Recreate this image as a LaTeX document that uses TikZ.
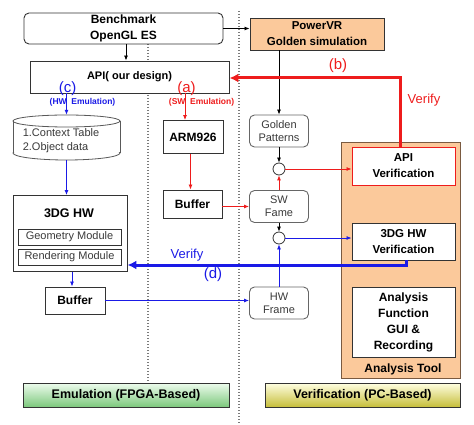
\documentclass[tikz,border=0pt]{standalone}
\usepackage{fontspec}
\setmainfont{Liberation Sans}
\usetikzlibrary{arrows.meta,calc}
\definecolor{orfill}{HTML}{FBC99B}
\definecolor{orline}{HTML}{7A5A40}
\definecolor{myred}{HTML}{EE1C1C}
\definecolor{myblue}{HTML}{1A1AE6}
\definecolor{gtext}{HTML}{3A3A3A}
\definecolor{bord}{HTML}{333333}
\definecolor{dotc}{HTML}{7A7A7A}
\definecolor{gtop}{HTML}{EEFCEE}
\definecolor{gbot}{HTML}{7CC87C}
\definecolor{ytop}{HTML}{FFFFE2}
\definecolor{ybot}{HTML}{C6BE3A}
\tikzset{
  box/.style={draw=bord, line width=0.9pt, fill=white, inner sep=0pt, align=center},
  rbox/.style={box, rounded corners=5pt, draw=gray!80!black, text=gtext,
    font=\fontsize{11}{13}\selectfont},
  bf/.style={font=\bfseries\fontsize{#1}{16}\selectfont},
  arr/.style={-{Latex[length=5pt,width=4pt]}, line width=0.8pt},
  bigarr/.style={-{Latex[length=9pt,width=9pt]}, line width=3pt},
  lbl/.style={font=\fontsize{15}{15}\selectfont, inner sep=0pt},
  vlbl/.style={font=\fontsize{13}{13}\selectfont, inner sep=0pt},
  small/.style={font=\bfseries\fontsize{8.5}{8.5}\selectfont, inner sep=0pt},
  dotline/.style={draw=dotc, line width=1.2pt, dash pattern=on 1.2pt off 1.8pt},
  circ/.style={circle, draw=bord, fill=white, minimum size=12pt, inner sep=0pt, line width=0.8pt}
}
\begin{document}
\begin{tikzpicture}[x=1pt,y=-1pt]
\useasboundingbox (0,0) rectangle (474,425);
% dotted separators
\draw[dotline] (148,44) -- (148,383);
\draw[dotline] (239,11) -- (239,425);

% analysis tool container
\node[draw=orline, fill=orfill, line width=0.9pt, minimum width=119pt, minimum height=236pt, inner sep=0pt] (tool) at (400.5,260) {};

% top
\node[box, bf=12, rounded corners=5pt, minimum width=199pt, minimum height=31pt] (bench) at (123.5,28.5) {Benchmark\\OpenGL ES};
\node[box, bf=11.5, fill=orfill, minimum width=134pt, minimum height=32pt] (pvr) at (317,34) {PowerVR\\Golden simulation};
\node[box, bf=11, minimum width=199pt, minimum height=32pt] (api) at (129.5,77) {API( our design)};

% cylinder
\fill[white] (13,121) rectangle (120,153);
\fill[white] (66.5,153) ellipse[x radius=53.5, y radius=7];
\draw[gray!70!black, line width=0.8pt] (13,121) -- (13,153) (120,121) -- (120,153);
\begin{scope}
  \clip (0,153) rectangle (140,170);
  \draw[gray!70!black, line width=0.8pt] (66.5,153) ellipse[x radius=53.5, y radius=7];
\end{scope}
\draw[gray!70!black, line width=0.8pt, fill=white] (66.5,121) ellipse[x radius=53.5, y radius=6];
\node[minimum width=107pt, minimum height=45pt, inner sep=0pt] (cyl) at (66.5,137.5) {};
\node[align=left, inner sep=0pt, font=\fontsize{11}{14}\selectfont, text=gtext] (cyltext) at (61,141) {1.Context Table\\2.Object data};

% SW emulation side
\node[box, bf=12, minimum width=60pt, minimum height=33pt] (arm) at (193,137) {ARM926};
\node[box, bf=12, minimum width=59pt, minimum height=28pt] (buf1) at (192.5,204) {Buffer};

% HW side
\node[box, minimum width=114pt, minimum height=76pt] (hw) at (70,233.5) {};
\node[bf=12.5, inner sep=0pt] (hwtitle) at (69,213) {3DG HW};
\node[box, font=\fontsize{11}{13}\selectfont, text=gtext, minimum width=103pt, minimum height=16pt] (geo) at (69.5,237) {Geometry Module};
\node[box, font=\fontsize{11}{13}\selectfont, text=gtext, minimum width=103pt, minimum height=16pt] (ren) at (69.5,257) {Rendering Module};
\node[box, bf=12, minimum width=60pt, minimum height=27pt] (buf2) at (75,300.5) {Buffer};

% middle column
\node[rbox, minimum width=59pt, minimum height=32pt] (gold) at (279,131) {Golden\\Patterns};
\node[circ] (c1) at (279,169) {};
\node[rbox, minimum width=59pt, minimum height=32pt] (swf) at (279,206.5) {SW\\Fame};
\node[circ] (c2) at (279,238) {};
\node[rbox, minimum width=59pt, minimum height=32pt] (hwf) at (279,303) {HW\\Frame};

% verification boxes
\node[box, bf=11.5, draw=myred, minimum width=103pt, minimum height=38pt] (apiv) at (403.5,166) {API\\Verification};
\node[box, bf=11.5, minimum width=103pt, minimum height=37pt] (hwv) at (403.5,241.5) {3DG HW\\Verification};
\node[box, bf=12, minimum width=103pt, minimum height=70pt] (anf) at (403.5,322) {Analysis\\Function\\GUI \&\\Recording};
\node[bf=12, inner sep=0pt] (tooltitle) at (403,369) {Analysis Tool};

% bottom bars
\node[draw=bord, line width=1pt, top color=gtop, bottom color=gbot, bf=12.5, minimum width=206pt, minimum height=24pt, inner sep=0pt] (emu) at (126,395) {Emulation (FPGA-Based)};
\node[draw=bord, line width=1pt, top color=ytop, bottom color=ybot, bf=12.5, minimum width=195pt, minimum height=24pt, inner sep=0pt] (ver) at (362.5,395) {Verification (PC-Based)};

% black connectors
\draw[arr] ([xshift=2.5pt]bench.south) -- ([xshift=2.5pt]bench.south |- api.north);
\draw[arr] (bench.east) -- (bench.east -| pvr.west);
\draw[arr] (gold.north |- pvr.south) -- (gold.north);
\draw[arr] (gold.south) -- (c1.north);
\draw[arr] (swf.south) -- (c2.north);

% blue connectors
\draw[arr, myblue] (cyl.north |- api.south) -- (cyl.north);
\draw[arr, myblue] (cyl.south) -- (cyl.south |- hw.north);
\draw[arr, myblue] ([xshift=2pt]hw.south) -- ([xshift=2pt]hw.south |- buf2.north);
\draw[arr, myblue] (buf2.east) -- (buf2.east -| hwf.west);
\draw[arr, myblue] (hwf.north) -- (c2.south);
\draw[arr, myblue] (c2.east) -- (c2.east -| hwv.west);

% red connectors
\draw[arr, myred] ([xshift=-8pt]arm.north |- api.south) -- ([xshift=-8pt]arm.north);
\draw[arr, myred] ([xshift=-2.5pt]arm.south) -- ([xshift=-2.5pt]arm.south |- buf1.north);
\draw[arr, myred] (swf.west -| buf1.east) -- (swf.west);
\draw[arr, myred] (swf.north) -- (c1.south);
\draw[arr, myred] (c1.east) -- (c1.east -| apiv.west);

% thick verify arrows
\draw[bigarr, myred] ([xshift=-3.5pt]apiv.north) |- ($(api.east)+(0,1)$);
\draw[bigarr, myblue] ([xshift=2.5pt]hwv.south) |- ($(hw.east)+(0,31.5)$);

% labels
\node[lbl, text=myblue] (lc) at (67.5,89) {(c)};
\node[small, text=myblue] (lhw) at (82.5,102.5) {(HW\ \ Emulation)};
\node[lbl, text=myred] (la) at (186.5,89) {(a)};
\node[small, text=myred] (lsw) at (201.5,102.5) {(SW\ \ Emulation)};
\node[lbl, text=myred] (lb) at (338,66) {(b)};
\node[vlbl, text=myred] (lv1) at (424,100) {Verify};
\node[vlbl, text=myblue] (lv2) at (187,255) {Verify};
\node[lbl, text=myblue] (ld) at (213,275) {(d)};
\end{tikzpicture}
\end{document}
